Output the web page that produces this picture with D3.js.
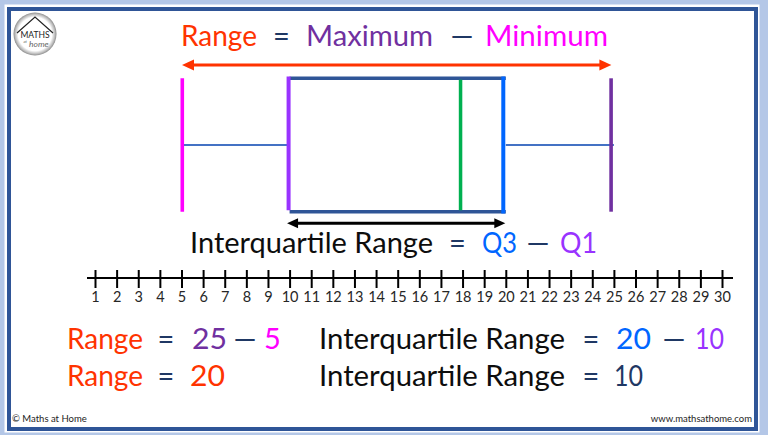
<!DOCTYPE html>
<html>
<head>
<meta charset="utf-8">
<script src="https://cdn.jsdelivr.net/npm/d3@7"></script>
<style>
  html, body { margin: 0; padding: 0; background: #B4C7E7; }
  svg { display: block; }
  text { font-family: Lato, "Open Sans", sans-serif; }
</style>
</head>
<body>
<svg id="chart" width="768" height="435"></svg>
<script>
// ---- data ----
const tickValues = [1,2,3,4,5,6,7,8,9,10,11,12,13,14,15,16,17,18,19,20,21,22,23,24,25,26,27,28,29,30];
const boxStats = { min: 5, q1: 10, median: 18, q3: 20, max: 25 };
const titleParts = ["Range", "=", "Maximum", "\u2014", "Minimum"];
const iqrParts = ["Interquartile Range", "=", "Q3", "\u2014", "Q1"];
const rangeCalc1 = ["Range", "=", "25", "\u2014", "5"];
const rangeCalc2 = ["Range", "=", "20"];
const iqrCalc1 = ["Interquartile Range", "=", "20", "\u2014", "10"];
const iqrCalc2 = ["Interquartile Range", "=", "10"];
const footerLeft = "\u00A9 Maths at Home";
const footerRight = "www.mathsathome.com";

// ---- colours ----
const C = {
  orange: "#FF3300", navy: "#1F3864", purple: "#7030A0", pink: "#FF00FF",
  violet: "#9933FF", blue: "#0066FF", green: "#00B050", boxBlue: "#2F5597",
  whisker: "#4472C4", black: "#0D0D0D"
};

const svg = d3.select("#chart");

// frame
svg.append("rect").attr("x", 0).attr("y", 0).attr("width", 768).attr("height", 435).attr("fill", "#B4C7E7");
svg.append("rect").attr("x", 4.5).attr("y", 4.5).attr("width", 755).attr("height", 428).attr("fill", "#fff");
svg.append("rect").attr("x", 9).attr("y", 9).attr("width", 747).attr("height", 420)
  .attr("fill", "none").attr("stroke", C.boxBlue).attr("stroke-width", 4);

// logo
const defs = svg.append("defs");
const rg = defs.append("radialGradient").attr("id", "logoGrad");
rg.append("stop").attr("offset", "0.78").attr("stop-color", "#ffffff");
rg.append("stop").attr("offset", "0.92").attr("stop-color", "#bdbdbd");
rg.append("stop").attr("offset", "1").attr("stop-color", "#8c8c8c");
const logo = svg.append("g").attr("transform", "translate(35,34)");
logo.append("circle").attr("r", 21.5).attr("fill", "url(#logoGrad)");
logo.append("path").attr("d", "M-18,-1 L0,-17 L18,-1").attr("fill", "none").attr("stroke", "#222").attr("stroke-width", 1.2);
logo.append("text").attr("x", 0).attr("y", 4).attr("text-anchor", "middle")
  .attr("font-family", "Liberation Sans, Arial, sans-serif").attr("font-size", 8.5).attr("fill", "#222").text("MATHS");
logo.append("text").attr("x", -6).attr("y", 13).attr("text-anchor", "start")
  .attr("font-family", "Liberation Serif, serif").attr("font-style", "italic").attr("font-size", 8.5).attr("fill", "#666").text("home");
logo.append("text").attr("x", -8).attr("y", 9).attr("text-anchor", "end")
  .attr("font-family", "Liberation Serif, serif").attr("font-style", "italic").attr("font-size", 4).attr("fill", "#666").text("at");

// ---- scale ----
const x = d3.scaleLinear().domain([1, 30]).range([95, 722]);
const yTop = 78.3, yBot = 211.7, yMid = 145;

// ---- arrows ----
function arrowHead(g, tipX, y, dir, color, len, half) {
  g.append("path")
    .attr("d", `M${tipX},${y} L${tipX - dir * len},${y - half} L${tipX - dir * len},${y + half} Z`)
    .attr("fill", color);
}
const arrows = svg.append("g");
arrows.append("line").attr("x1", x(boxStats.min) + 8).attr("x2", x(boxStats.max) - 8)
  .attr("y1", 65).attr("y2", 65).attr("stroke", C.orange).attr("stroke-width", 3.2);
arrowHead(arrows, x(boxStats.min) + 0.5, 65, -1, C.orange, 12, 5.5);
arrowHead(arrows, x(boxStats.max) - 2.5, 65, 1, C.orange, 12, 5.5);

arrows.append("line").attr("x1", x(boxStats.q1) + 8).attr("x2", x(boxStats.q3) - 8)
  .attr("y1", 223.3).attr("y2", 223.3).attr("stroke", "#000").attr("stroke-width", 3);
arrowHead(arrows, x(boxStats.q1) - 2.5, 223.3, -1, "#000", 11, 5);
arrowHead(arrows, x(boxStats.q3) - 0.5, 223.3, 1, "#000", 11, 5);

// ---- box plot ----
const bp = svg.append("g");
bp.append("line").attr("x1", x(boxStats.min)).attr("x2", x(boxStats.q1))
  .attr("y1", yMid).attr("y2", yMid).attr("stroke", C.whisker).attr("stroke-width", 1.8);
bp.append("line").attr("x1", x(boxStats.q3)).attr("x2", x(boxStats.max))
  .attr("y1", yMid).attr("y2", yMid).attr("stroke", C.whisker).attr("stroke-width", 1.8);
bp.append("line").attr("x1", x(boxStats.q1)).attr("x2", x(boxStats.q3))
  .attr("y1", yTop).attr("y2", yTop).attr("stroke", C.boxBlue).attr("stroke-width", 3.6);
bp.append("line").attr("x1", x(boxStats.q1)).attr("x2", x(boxStats.q3))
  .attr("y1", yBot).attr("y2", yBot).attr("stroke", C.boxBlue).attr("stroke-width", 3.6);
bp.append("line").attr("x1", x(boxStats.median) - 2).attr("x2", x(boxStats.median) - 2)
  .attr("y1", yTop + 1.5).attr("y2", yBot - 1.5).attr("stroke", C.green).attr("stroke-width", 3.5);
bp.append("line").attr("x1", x(boxStats.q1) - 1).attr("x2", x(boxStats.q1) - 1)
  .attr("y1", yTop - 1.7).attr("y2", yBot - 1.5).attr("stroke", C.violet).attr("stroke-width", 4);
bp.append("line").attr("x1", x(boxStats.q3) - 2.5).attr("x2", x(boxStats.q3) - 2.5)
  .attr("y1", yTop - 1.7).attr("y2", yBot + 1.7).attr("stroke", C.blue).attr("stroke-width", 4);
bp.append("line").attr("x1", x(boxStats.min) + 0.8).attr("x2", x(boxStats.min) + 0.8)
  .attr("y1", yTop).attr("y2", yBot).attr("stroke", C.pink).attr("stroke-width", 3.6);
bp.append("line").attr("x1", x(boxStats.max) - 2.8).attr("x2", x(boxStats.max) - 2.8)
  .attr("y1", yTop).attr("y2", yBot).attr("stroke", C.purple).attr("stroke-width", 3.6);

// ---- number line axis ----
const axisY = 278;
const axis = d3.axisBottom(x).tickValues(tickValues).tickFormat(d3.format("d")).tickSize(10).tickPadding(0);
const ag = svg.append("g").attr("transform", `translate(0,${axisY})`).call(axis);
ag.select(".domain").remove();
ag.append("line").attr("x1", x(1) - 8).attr("x2", x(30) + 11).attr("y1", 0).attr("y2", 0)
  .attr("stroke", "#000").attr("stroke-width", 2);
ag.selectAll(".tick line").attr("y1", -8).attr("y2", 10).attr("stroke", "#000").attr("stroke-width", 2);
ag.selectAll(".tick text").attr("y", 24).attr("dy", null)
  .attr("font-family", "Lato, sans-serif").attr("font-size", 14.5).attr("fill", "#262626");

// ---- text helper ----
function textRow(parts, colors, xs, anchors, baseline, size, lengths) {
  const g = svg.append("g");
  parts.forEach((t, i) => {
    const el = g.append("text").attr("x", xs[i]).attr("y", baseline)
      .attr("text-anchor", anchors[i]).attr("font-size", size)
      .attr("fill", colors[i]).text(t);
    if (lengths && lengths[i]) el.attr("textLength", lengths[i]).attr("lengthAdjust", "spacingAndGlyphs");
  });
}
const S = 29;

textRow(titleParts, [C.orange, C.navy, C.purple, C.navy, C.pink],
  [181, 281.5, 306, 462, 485], ["start", "middle", "start", "middle", "start"], 46, S,
  [76, 0, 127, 0, 123]);

textRow(iqrParts, [C.black, C.navy, C.blue, C.navy, C.violet],
  [190, 457.5, 482, 538, 560], ["start", "middle", "start", "middle", "start"], 253, S,
  [243, 0, 35, 0, 37]);

textRow(rangeCalc1, [C.orange, C.navy, C.purple, C.navy, C.pink],
  [67, 166, 192, 245, 264], ["start", "middle", "start", "middle", "start"], 349, S,
  [76, 0, 35, 0, 0]);
textRow(rangeCalc2, [C.orange, C.navy, C.orange],
  [67, 166, 190], ["start", "middle", "start"], 386, S, [76, 0, 35]);
textRow(iqrCalc1, [C.black, C.navy, C.blue, C.navy, C.violet],
  [319, 591, 616, 674, 695], ["start", "middle", "start", "middle", "start"], 349, S,
  [246, 0, 35, 0, 29]);
textRow(iqrCalc2, [C.black, C.navy, C.navy],
  [319, 591, 614], ["start", "middle", "start"], 386, S, [246, 0, 29]);

// ---- footer ----
svg.append("text").attr("x", 12).attr("y", 421.5).attr("font-family", "Liberation Sans, Arial, sans-serif")
  .attr("font-size", 9.5).attr("fill", "#222").text(footerLeft);
svg.append("text").attr("x", 752).attr("y", 421.5).attr("text-anchor", "end").attr("font-family", "Liberation Sans, Arial, sans-serif")
  .attr("font-size", 9.5).attr("fill", "#222").text(footerRight);
</script>
</body>
</html>
